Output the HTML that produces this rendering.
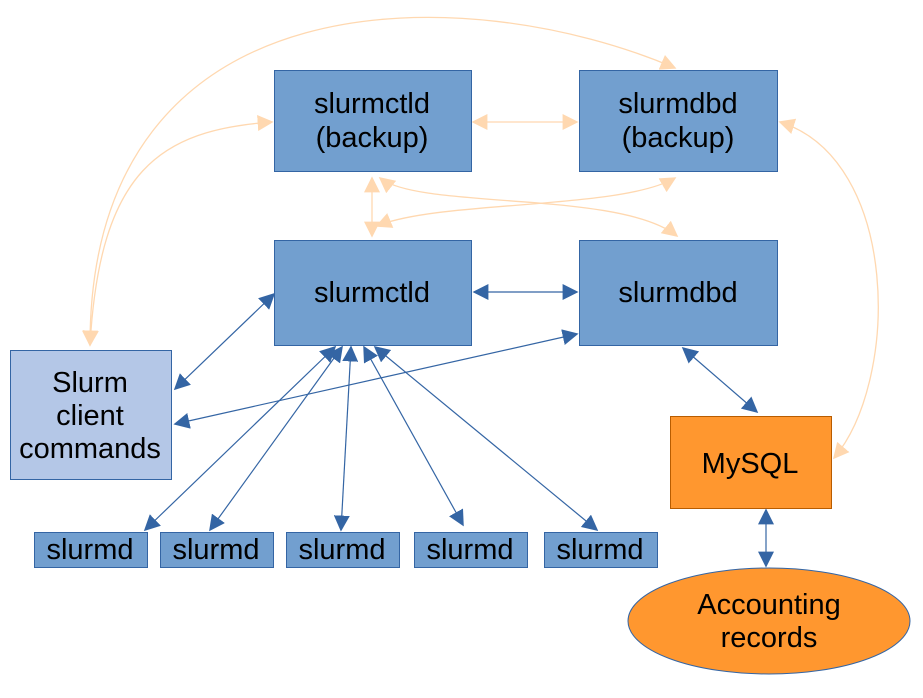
<!DOCTYPE html>
<html><head><meta charset="utf-8"><style>body{margin:0;background:#fff}svg{display:block}text{font-family:"Liberation Sans",sans-serif;fill:#000}</style></head><body>
<svg width="923" height="698" viewBox="0 0 923 698" xmlns="http://www.w3.org/2000/svg">
<defs>
<marker id="b" viewBox="0 0 10 10" refX="9" refY="5" markerWidth="16" markerHeight="16" markerUnits="userSpaceOnUse" orient="auto-start-reverse"><path d="M0,0 L10,5 L0,10 z" fill="#3465a4"/></marker>
<marker id="o" viewBox="0 0 10 10" refX="9" refY="5" markerWidth="16" markerHeight="16" markerUnits="userSpaceOnUse" orient="auto-start-reverse"><path d="M0,0 L10,5 L0,10 z" fill="#ffd8b0"/></marker>
</defs>
<g fill="none" stroke="#ffd8b0" stroke-width="1.3" marker-start="url(#o)" marker-end="url(#o)">
<path d="M90,345 C90,-30 470,-20 675,68"/>
<path d="M90,345 C100,170 160,130 272,122"/>
<path d="M473,122 L577,122"/>
<path d="M372,178 L372,236"/>
<path d="M380,178 C420,210 620,190 677,236"/>
<path d="M377,226 C440,200 620,210 675,178"/>
<path d="M780,122 C900,160 900,380 834,458"/>
</g>
<g fill="#729fcf" stroke="#3465a4" stroke-width="1">
<rect x="274.5" y="70.5" width="197" height="101"/>
<rect x="579.5" y="70.5" width="198" height="101"/>
<rect x="274.5" y="240.5" width="197" height="105"/>
<rect x="579.5" y="240.5" width="198" height="105"/>
<rect x="34.5" y="532.5" width="113" height="35"/>
<rect x="160.5" y="532.5" width="113" height="35"/>
<rect x="286.5" y="532.5" width="113" height="35"/>
<rect x="414.5" y="532.5" width="113" height="35"/>
<rect x="544.5" y="532.5" width="113" height="35"/>
</g>
<rect x="10.5" y="350.5" width="161" height="129" fill="#b4c7e7" stroke="#3465a4"/>
<rect x="670.5" y="416.5" width="161" height="92" fill="#ff972f" stroke="#b85c00"/>
<ellipse cx="769" cy="621" rx="141" ry="53" fill="#ff972f" stroke="#3465a4"/>
<g fill="none" stroke="#3465a4" stroke-width="1.2" marker-start="url(#b)" marker-end="url(#b)">
<path d="M474,292 L577,292"/>
<path d="M274,294 L175,389"/>
<path d="M577,334 L175,424"/>
<path d="M683,348 L757,412"/>
<path d="M766,510 L766,566"/>
<path d="M335,347 L145,530"/>
<path d="M342,347 L210,530"/>
<path d="M351,347 L341,530"/>
<path d="M364,347 L463,525"/>
<path d="M375,347 L597,530"/>
</g>
<g font-size="29" text-anchor="middle">
<text x="372" y="113">slurmctld</text><text x="372" y="147">(backup)</text>
<text x="678" y="113">slurmdbd</text><text x="678" y="147">(backup)</text>
<text x="372" y="302">slurmctld</text>
<text x="678" y="302">slurmdbd</text>
<text x="90" y="392">Slurm</text><text x="90" y="425">client</text><text x="90" y="458">commands</text>
<text x="750" y="473">MySQL</text>
<text x="769" y="614">Accounting</text><text x="769" y="647">records</text>
<text x="90" y="559">slurmd</text><text x="216" y="559">slurmd</text><text x="342" y="559">slurmd</text><text x="470" y="559">slurmd</text><text x="600" y="559">slurmd</text>
</g>
</svg>
</body></html>
